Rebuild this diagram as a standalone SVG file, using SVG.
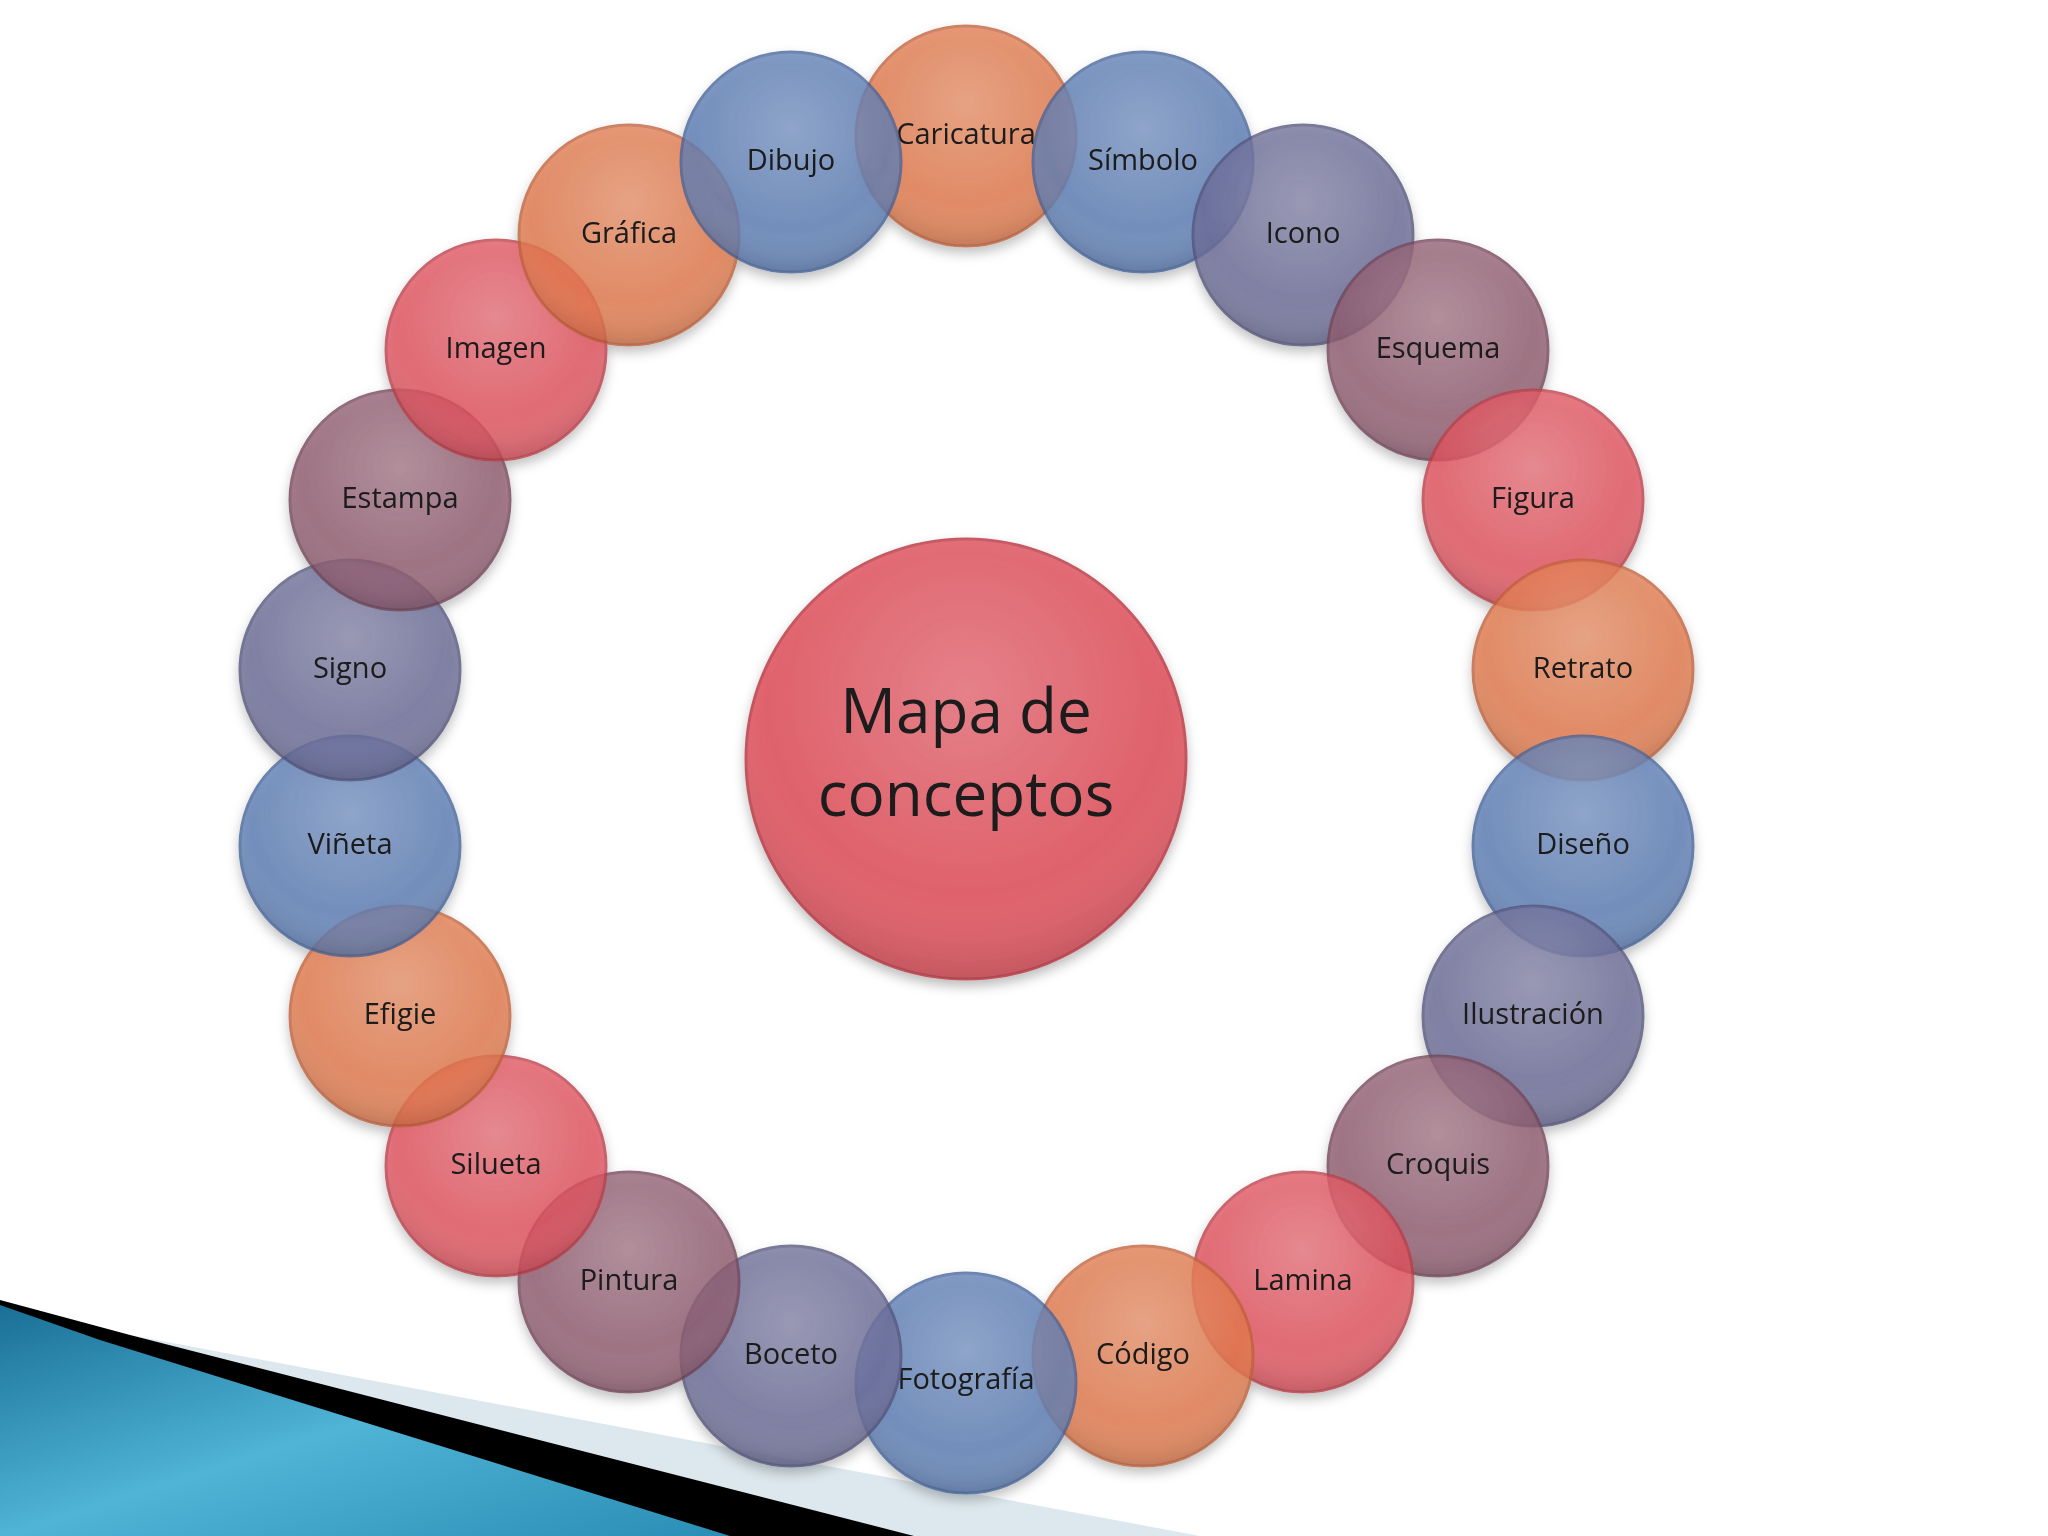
<svg xmlns="http://www.w3.org/2000/svg" width="2048" height="1536" viewBox="0 0 2048 1536">
<defs>
<radialGradient id="g" cx="50%" cy="35%" r="65%"><stop offset="0" stop-color="#fff" stop-opacity="0.25"/><stop offset="0.7" stop-color="#fff" stop-opacity="0"/><stop offset="1" stop-color="#000" stop-opacity="0.15"/></radialGradient>
<linearGradient id="blue" x1="0" y1="0" x2="1" y2="1"><stop offset="0" stop-color="#1a6f96"/><stop offset="0.5" stop-color="#4fb4d6"/><stop offset="1" stop-color="#2a8db5"/></linearGradient>
<filter id="sh" x="-20%" y="-20%" width="140%" height="140%"><feDropShadow dx="0" dy="6" stdDeviation="6" flood-opacity="0.3"/></filter>
</defs>
<style>
.n circle{stroke-width:3;opacity:0.78}
.o{fill:#e0784a;stroke:#c0603a}
.b{fill:#5a7cb4;stroke:#45639a}
.p{fill:#6a6a95;stroke:#54547c}
.m{fill:#8f5a6e;stroke:#744558}
.r{fill:#e0505c;stroke:#bd3d48}
.t{font-family:"Open Sans","DejaVu Sans",sans-serif;font-size:29px;fill:#1a1a1a;text-anchor:middle;dominant-baseline:middle}
.hl{fill:url(#g);stroke:none}
</style>
<rect width="2048" height="1536" fill="#fff"/>
<g id="deco">
<polygon points="0,1300 130,1335 1200,1536 0,1536" fill="#dde8ee"/>
<polygon points="0,1300 130,1335 914,1536 0,1536" fill="#000"/>
<polygon points="0,1305 100,1340 730,1536 0,1536" fill="url(#blue)"/>
</g>
<g id="nodes" filter="url(#sh)">
<g id="n1" class="n"><circle class="o" cx="966" cy="136" r="110"/><circle class="hl" cx="966" cy="136" r="110"/><text class="t" x="966" y="136">Caricatura</text></g>
<g id="n2" class="n"><circle class="b" cx="1143" cy="162" r="110"/><circle class="hl" cx="1143" cy="162" r="110"/><text class="t" x="1143" y="162">Símbolo</text></g>
<g id="n3" class="n"><circle class="p" cx="1303" cy="235" r="110"/><circle class="hl" cx="1303" cy="235" r="110"/><text class="t" x="1303" y="235">Icono</text></g>
<g id="n4" class="n"><circle class="m" cx="1438" cy="350" r="110"/><circle class="hl" cx="1438" cy="350" r="110"/><text class="t" x="1438" y="350">Esquema</text></g>
<g id="n5" class="n"><circle class="r" cx="1533" cy="500" r="110"/><circle class="hl" cx="1533" cy="500" r="110"/><text class="t" x="1533" y="500">Figura</text></g>
<g id="n6" class="n"><circle class="o" cx="1583" cy="670" r="110"/><circle class="hl" cx="1583" cy="670" r="110"/><text class="t" x="1583" y="670">Retrato</text></g>
<g id="n7" class="n"><circle class="b" cx="1583" cy="846" r="110"/><circle class="hl" cx="1583" cy="846" r="110"/><text class="t" x="1583" y="846">Diseño</text></g>
<g id="n8" class="n"><circle class="p" cx="1533" cy="1016" r="110"/><circle class="hl" cx="1533" cy="1016" r="110"/><text class="t" x="1533" y="1016">Ilustración</text></g>
<g id="n9" class="n"><circle class="m" cx="1438" cy="1166" r="110"/><circle class="hl" cx="1438" cy="1166" r="110"/><text class="t" x="1438" y="1166">Croquis</text></g>
<g id="n10" class="n"><circle class="r" cx="1303" cy="1282" r="110"/><circle class="hl" cx="1303" cy="1282" r="110"/><text class="t" x="1303" y="1282">Lamina</text></g>
<g id="n11" class="n"><circle class="o" cx="1143" cy="1356" r="110"/><circle class="hl" cx="1143" cy="1356" r="110"/><text class="t" x="1143" y="1356">Código</text></g>
<g id="n12" class="n"><circle class="b" cx="966" cy="1383" r="110"/><circle class="hl" cx="966" cy="1383" r="110"/><text class="t" x="966" y="1381">Fotografía</text></g>
<g id="n13" class="n"><circle class="p" cx="791" cy="1356" r="110"/><circle class="hl" cx="791" cy="1356" r="110"/><text class="t" x="791" y="1356">Boceto</text></g>
<g id="n14" class="n"><circle class="m" cx="629" cy="1282" r="110"/><circle class="hl" cx="629" cy="1282" r="110"/><text class="t" x="629" y="1282">Pintura</text></g>
<g id="n15" class="n"><circle class="r" cx="496" cy="1166" r="110"/><circle class="hl" cx="496" cy="1166" r="110"/><text class="t" x="496" y="1166">Silueta</text></g>
<g id="n16" class="n"><circle class="o" cx="400" cy="1016" r="110"/><circle class="hl" cx="400" cy="1016" r="110"/><text class="t" x="400" y="1016">Efigie</text></g>
<g id="n17" class="n"><circle class="b" cx="350" cy="846" r="110"/><circle class="hl" cx="350" cy="846" r="110"/><text class="t" x="350" y="846">Viñeta</text></g>
<g id="n18" class="n"><circle class="p" cx="350" cy="670" r="110"/><circle class="hl" cx="350" cy="670" r="110"/><text class="t" x="350" y="670">Signo</text></g>
<g id="n19" class="n"><circle class="m" cx="400" cy="500" r="110"/><circle class="hl" cx="400" cy="500" r="110"/><text class="t" x="400" y="500">Estampa</text></g>
<g id="n20" class="n"><circle class="r" cx="496" cy="350" r="110"/><circle class="hl" cx="496" cy="350" r="110"/><text class="t" x="496" y="350">Imagen</text></g>
<g id="n21" class="n"><circle class="o" cx="629" cy="235" r="110"/><circle class="hl" cx="629" cy="235" r="110"/><text class="t" x="629" y="235">Gráfica</text></g>
<g id="n22" class="n"><circle class="b" cx="791" cy="162" r="110"/><circle class="hl" cx="791" cy="162" r="110"/><text class="t" x="791" y="162">Dibujo</text></g>
<g id="center" class="n"><circle class="r" cx="966" cy="759" r="220" style="opacity:0.85"/><circle class="hl" cx="966" cy="759" r="220"/><text class="t" x="966" y="716" style="font-size:62px">Mapa de</text><text class="t" x="966" y="799" style="font-size:62px">conceptos</text></g>
</g>
<g id="connectors"/>
</svg>
